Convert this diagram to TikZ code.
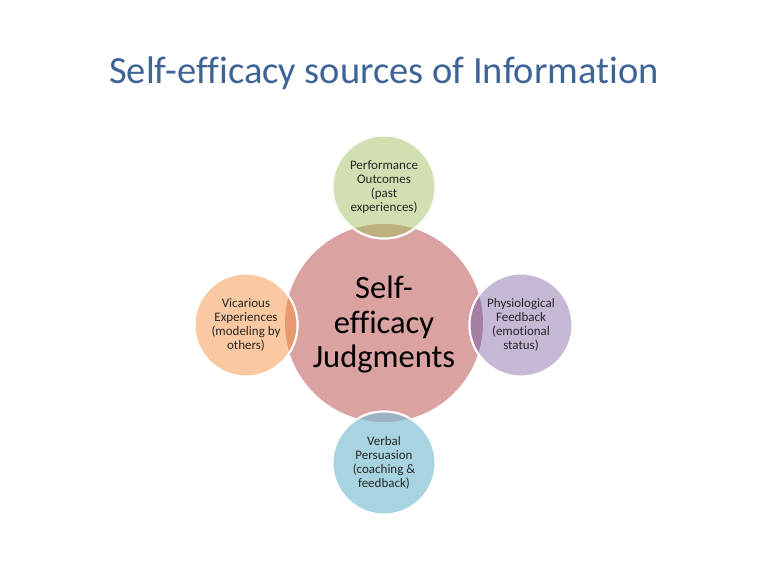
\documentclass[tikz,border=0pt]{standalone}
\usepackage{fontspec}
\setmainfont{Carlito}[Ligatures=CommonOff]
\definecolor{titleblue}{RGB}{62,100,150}
\definecolor{hubpink}{RGB}{218,162,161}
\definecolor{srcgreen}{RGB}{210,223,178}
\definecolor{srcorange}{RGB}{250,200,161}
\definecolor{srcpurple}{RGB}{197,185,214}
\definecolor{srcblue}{RGB}{168,212,226}
\definecolor{lensgreen}{RGB}{189,177,127}
\definecolor{lensorange}{RGB}{233,153,110}
\definecolor{lenspurple}{RGB}{165,127,166}
\definecolor{lensblue}{RGB}{155,179,194}
\definecolor{textdark}{RGB}{38,38,38}
\tikzset{
  hub/.style={circle,fill=hubpink,minimum size=198pt,inner sep=0pt,
    align=center,text=black,font=\fontsize{32.5}{34.5}\selectfont},
  source/.style={circle,draw=white,line width=2pt,minimum size=103pt,inner sep=0pt,
    align=center,text=textdark,font=\fontsize{13}{14}\selectfont}
}
\begin{document}
\begin{tikzpicture}[x=1pt,y=-1pt]
  \useasboundingbox (0,0) rectangle (768,576);

  % Title
  \node[anchor=base,text=titleblue,font=\fontsize{38.5}{40}\selectfont] (title) at (384,83)
    {Self-efficacy sources of Information};

  % Centre circle
  \node[hub] (judge) at (384,323) {};
  \node[align=center,font=\fontsize{32.5}{34.5}\selectfont] (judgetext) at (384,325)
    {Self-\\efficacy\\Judgments};

  % Sources
  \node[source,fill=srcgreen] (perf) at (384,187)
    {Performance\\Outcomes\\(past\\experiences)};
  \node[source,fill=srcorange] (vic) at (246,325)
    {Vicarious\\Experiences\\(modeling by\\others)};
  \node[source,fill=srcpurple] (phys) at (521,325)
    {Physiological\\Feedback\\(emotional\\status)};
  \node[source,fill=srcblue] (verb) at (384,463)
    {Verbal\\Persuasion\\(coaching \&\\feedback)};

  % Overlaps
  \foreach \src/\col in {perf/lensgreen,vic/lensorange,phys/lenspurple,verb/lensblue}{
    \begin{scope}
      \clip (judge.center) circle (99);
      \fill[\col] (\src.center) circle (51.5);
      \draw[white,line width=2pt] (\src.center) circle (51.5);
    \end{scope}
  }
\end{tikzpicture}
\end{document}
